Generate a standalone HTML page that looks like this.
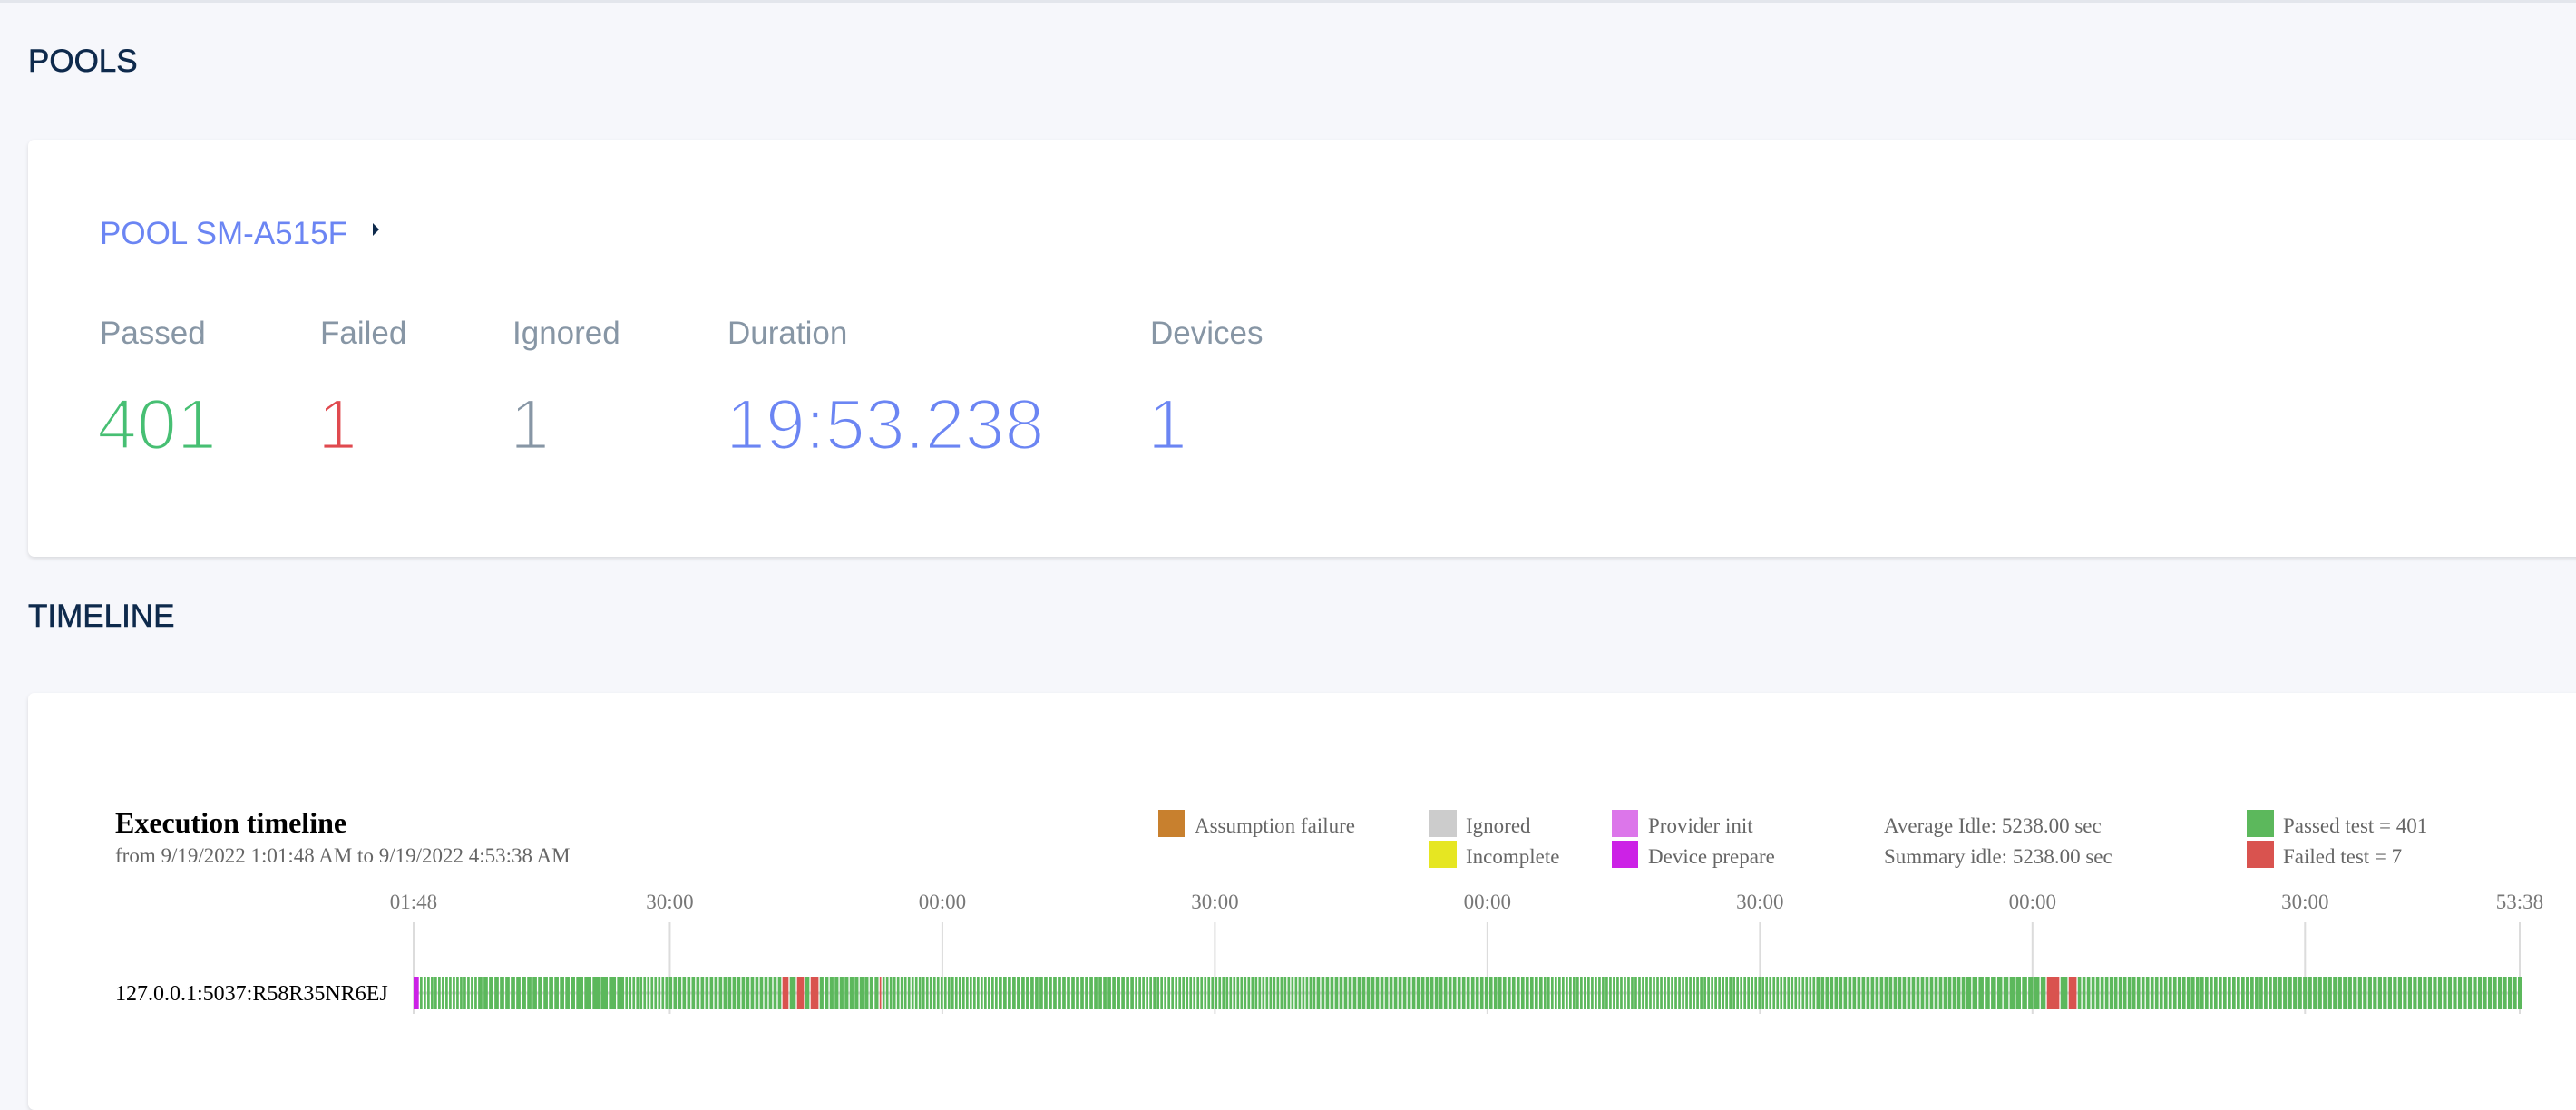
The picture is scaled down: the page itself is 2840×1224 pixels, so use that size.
<!DOCTYPE html>
<html><head><meta charset="utf-8"><style>
html,body{margin:0;padding:0;}
body{width:2840px;height:1182px;background:#f6f7fb;position:relative;overflow:hidden;font-family:"Liberation Sans",sans-serif;}
.topline{position:absolute;left:0;top:0;width:2840px;height:3px;background:#e3e6ec;}
.h{position:absolute;left:31px;font-size:35px;color:#0e2a4c;-webkit-text-stroke:0.6px #0e2a4c;line-height:1;}
.card{position:absolute;left:31px;width:2840px;background:#fff;border-radius:7px;box-shadow:0 2px 4px rgba(0,0,0,0.12);}
.t{position:absolute;white-space:nowrap;line-height:1;}
.lbl{font-size:35px;color:#8796a5;}
.num{font-size:79px;font-weight:300;-webkit-text-stroke:2.8px #fff;}
svg text{font-family:"Liberation Serif",serif;}
</style></head><body>
<div class="topline"></div>
<div class="h" style="top:50px">POOLS</div>
<div class="card" style="top:154px;height:460px"></div>
<div class="t" style="left:110px;top:240px;font-size:35px;color:#6b85f3">POOL SM-A515F</div>
<div class="t" style="left:411px;top:246px;width:0;height:0;border-top:7px solid transparent;border-bottom:7px solid transparent;border-left:7px solid #0e2a4c"></div>

<div class="t lbl" style="left:110px;top:350px">Passed</div>
<div class="t lbl" style="left:353px;top:350px">Failed</div>
<div class="t lbl" style="left:565px;top:350px">Ignored</div>
<div class="t lbl" style="left:802px;top:350px">Duration</div>
<div class="t lbl" style="left:1268px;top:350px">Devices</div>

<div class="t num" style="left:107px;top:428px;color:#47bf73">401</div>
<div class="t num" style="left:350px;top:428px;color:#e04a4f">1</div>
<div class="t num" style="left:562px;top:428px;color:#8796a5">1</div>
<div class="t num" style="left:800px;top:428px;color:#6b85f3">19:53.238</div>
<div class="t num" style="left:1265px;top:428px;color:#6b85f3">1</div>

<div class="h" style="top:662px">TIMELINE</div>
<div class="card" style="top:764px;height:460px"></div>

<svg id="chart" width="2840" height="1182" style="position:absolute;left:0;top:0">
<text x="127" y="918" font-size="32" font-weight="bold" fill="#000">Execution timeline</text>
<text x="127" y="951" font-size="23" fill="#666">from 9/19/2022 1:01:48 AM to 9/19/2022 4:53:38 AM</text>
<g>
<rect x="1277" y="893" width="29" height="30" fill="#c8802e"/>
<text x="1317" y="918" font-size="23" fill="#666">Assumption failure</text>
<rect x="1576" y="893" width="30" height="30" fill="#cccccc"/>
<text x="1616" y="918" font-size="23" fill="#666">Ignored</text>
<rect x="1576" y="927" width="30" height="30" fill="#e6e622"/>
<text x="1616" y="952" font-size="23" fill="#666">Incomplete</text>
<rect x="1777" y="893" width="29" height="30" fill="#dc76ea"/>
<text x="1817" y="918" font-size="23" fill="#666">Provider init</text>
<rect x="1777" y="927" width="29" height="30" fill="#cc22e6"/>
<text x="1817" y="952" font-size="23" fill="#666">Device prepare</text>
<text x="2077" y="918" font-size="23" fill="#666">Average Idle: 5238.00 sec</text>
<text x="2077" y="952" font-size="23" fill="#666">Summary idle: 5238.00 sec</text>
<rect x="2477" y="893" width="30" height="30" fill="#5cb85c"/>
<text x="2517" y="918" font-size="23" fill="#666">Passed test = 401</text>
<rect x="2477" y="927" width="30" height="30" fill="#d9534f"/>
<text x="2517" y="952" font-size="23" fill="#666">Failed test = 7</text>
</g>
<text x="127" y="1103" font-size="24" fill="#000">127.0.0.1:5037:R58R35NR6EJ</text>
<g id="grid"></g>
<line x1="456" x2="2778" y1="1095" y2="1095" stroke="#d8d8d8" stroke-width="3"/>
<g id="bars"></g>
</svg>
<script>
// time offsets (seconds from 1:01:48) of axis ticks
const tickOffsets = [0, 1692, 3492, 5292, 7092, 8892, 10692, 12492, 13910];
const tickLabels = ["01:48","30:00","00:00","30:00","00:00","30:00","00:00","30:00","53:38"];
const totalSeconds = 13910;
// runs of consecutive tests: count, duration per test (s), status
const runCounts =    [1, 16, 18, 6, 12, 25, 1, 1, 1, 1, 1, 12, 1, 32, 30, 50, 50, 37, 38, 33, 13, 1, 1, 1, 43, 50];
const runDurations = [42,24, 36, 54,24, 30, 48,48,54,36,60,33, 18,24, 30, 24, 30, 24, 24, 30, 41, 90,54,60,30, 33];
const runStatus =    ["prepare","passed","passed","passed","passed","passed","failed","passed","failed","passed","failed","passed","failed","passed","passed","passed","passed","passed","passed","passed","passed","failed","passed","failed","passed","passed"];
const colors = {passed:"#5cb85c", failed:"#d9534f", prepare:"#cc22e6"};
const X0 = 456, X1 = 2778;
function xScale(s){ return X0 + (s/totalSeconds)*(X1-X0); }
const NS = "http://www.w3.org/2000/svg";
const grid = document.getElementById('grid');
tickOffsets.forEach((t,i)=>{
  const x = xScale(t);
  const ln = document.createElementNS(NS,'line');
  
  
  ln.setAttribute('x1',x); ln.setAttribute('x2',x);
  ln.setAttribute('y1',1017); ln.setAttribute('y2',1118);
  ln.setAttribute('stroke','#dcdcdc'); ln.setAttribute('stroke-width','2');
  grid.appendChild(ln);
  const tx = document.createElementNS(NS,'text');
  
  
  tx.setAttribute('x',x); tx.setAttribute('y',1002);
  tx.setAttribute('text-anchor','middle');
  tx.setAttribute('font-size','23'); tx.setAttribute('fill','#777');
  tx.textContent = tickLabels[i];
  grid.appendChild(tx);
});
const bars = document.getElementById('bars');
let t = 0;
runCounts.forEach((c,ri)=>{
  for(let k=0;k<c;k++){
    const d = runDurations[ri];
    const xa = xScale(t), xb = xScale(t+d);
    const r = document.createElementNS(NS,'rect');
    
    
    r.setAttribute('x', xa);
    r.setAttribute('y', 1077);
    r.setAttribute('width', Math.max(1, xb - xa - 1.3));
    r.setAttribute('height', 36);
    r.setAttribute('fill', colors[runStatus[ri]]);
    bars.appendChild(r);
    t += d;
  }
});
</script>
</body></html>
